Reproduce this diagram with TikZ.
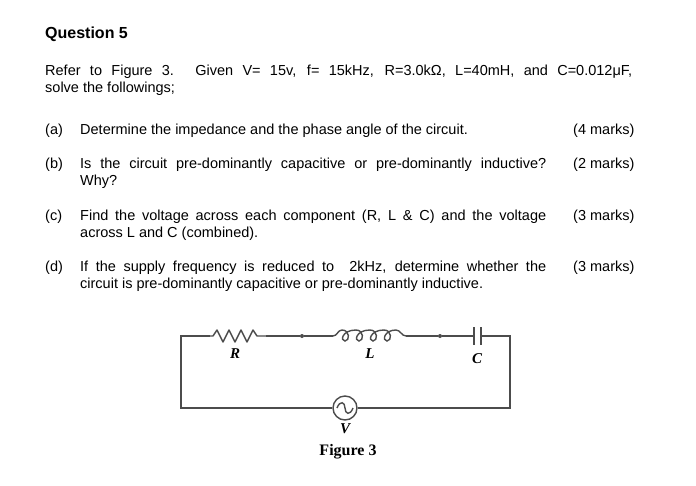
\documentclass[tikz,border=0pt]{standalone}
\usepackage{fontspec}
\setmainfont{Liberation Sans}
\newfontfamily\serifb{Liberation Serif}
\begin{document}
\begin{tikzpicture}[x=1pt,y=-1pt,
  txt/.style={anchor=base west,inner sep=0pt,font=\fontsize{14.5}{16}\selectfont},
  lbl/.style={inner sep=0pt,font=\fontsize{15}{15}\serifb\bfseries\itshape},
  wire/.style={draw=black!70,line width=1.4pt},
  dotn/.style={circle,fill=black!70,inner sep=0pt,minimum size=4pt}]
\useasboundingbox[fill=white] (0,0) rectangle (696,485);
\node[txt,font=\fontsize{16}{16}\selectfont\bfseries] (q) at (45,38) {Question 5};
\node[txt] (l1) at (45,75) {\makebox[587pt][s]{Refer to Figure 3. Given V= 15v, f= 15kHz, R=3.0kΩ, L=40mH, and C=0.012μF,}};
\node[txt] (l2) at (45,92) {solve the followings;};
\node[txt] (a) at (45,134) {(a)};
\node[txt] (at) at (80,134) {Determine the impedance and the phase angle of the circuit.};
\node[txt] (am) at (573,134) {(4 marks)};
\node[txt] (b) at (45,168) {(b)};
\node[txt] (bt) at (80,168) {\makebox[466pt][s]{Is the circuit pre-dominantly capacitive or pre-dominantly inductive?}};
\node[txt] (bt2) at (80,185) {Why?};
\node[txt] (bm) at (573,168) {(2 marks)};
\node[txt] (c) at (45,220) {(c)};
\node[txt] (ct) at (80,220) {\makebox[466pt][s]{Find the voltage across each component (R, L \& C) and the voltage}};
\node[txt] (ct2) at (80,237) {across L and C (combined).};
\node[txt] (cm) at (573,220) {(3 marks)};
\node[txt] (d) at (45,271) {(d)};
\node[txt] (dt) at (80,271) {\makebox[466pt][s]{If the supply frequency is reduced to \ 2kHz, determine whether the}};
\node[txt] (dt2) at (80,288) {circuit is pre-dominantly capacitive or pre-dominantly inductive.};
\node[txt] (dm) at (573,271) {(3 marks)};
% circuit
\coordinate (tl) at (181,336); \coordinate (tr) at (510,336);
\coordinate (bl) at (181,408); \coordinate (br) at (510,408);
\coordinate (r1) at (210,336); \coordinate (r2) at (266,336);
\node[dotn] (d1) at (302,336) {};
\coordinate (i1) at (333,336); \coordinate (i2) at (406,336);
\node[dotn] (d2) at (440,336) {};
\coordinate (c1) at (474,336); \coordinate (c2) at (481,336);
\node[circle,draw=black!70,line width=1.4pt,minimum size=24pt,inner sep=0pt] (src) at (345,408) {};
\draw[wire] (r2) -- (d1) -- (i1);
\draw[wire] (i2) -- (d2) -- (c1);
\draw[wire] (r1) -- (tl) -- (bl) -- (src.west);
\draw[wire] (src.east) -- (br) -- (tr) -- (c2);
\draw[wire,line join=round] (r1) -- ++(3,0) -- ++(4,-6) -- ++(6,12) -- ++(6,-12) -- ++(6,12) -- ++(6,-12) -- ++(6,12) -- ++(6,-12) -- ++(4,6) -- (r2);
\draw[wire] (i1) to[out=0,in=180] (342,330) .. controls (350,330) and (350,341) .. (345,341) .. controls (340,341) and (342,330) .. (356,330)
  .. controls (364,330) and (364,341) .. (359,341) .. controls (354,341) and (356,330) .. (370,330)
  .. controls (378,330) and (378,341) .. (373,341) .. controls (368,341) and (370,330) .. (384,330)
  .. controls (392,330) and (392,341) .. (387,341) .. controls (382,341) and (384,330) .. (396,330) to[out=0,in=180] (i2);
\draw[wire] (474,327) -- (474,345); \draw[wire] (481,327) -- (481,345);
\draw[wire] (337,408) .. controls (340,400) and (345,402) .. (345,408) .. controls (345,414) and (350,416) .. (353,408);
\node[lbl] (R) at (235,354) {R};
\node[lbl] (L) at (370,354) {L};
\node[lbl] (C) at (477,359) {C};
\node[lbl] (V) at (345,429) {V};
\node[inner sep=0pt,font=\fontsize{16}{16}\serifb\bfseries] (fig) at (348,452) {Figure 3};
\end{tikzpicture}
\end{document}
